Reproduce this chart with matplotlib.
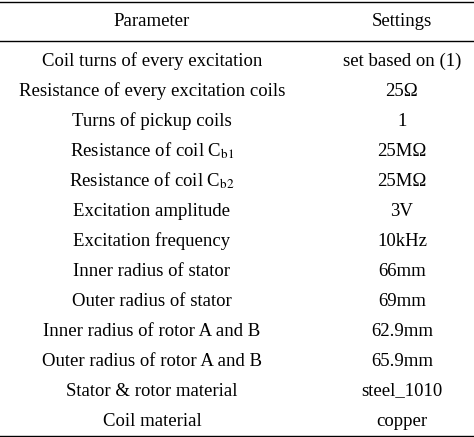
import matplotlib
matplotlib.use('Agg')
import matplotlib.pyplot as plt

plt.rcParams['font.family'] = 'Liberation Serif'
plt.rcParams['mathtext.fontset'] = 'stix'

headers = ['Parameter', 'Settings']
parameters = [
    'Coil turns of every excitation',
    'Resistance of every excitation coils',
    'Turns of pickup coils',
    r'Resistance of coil C$_{\mathrm{b1}}$',
    r'Resistance of coil C$_{\mathrm{b2}}$',
    'Excitation amplitude',
    'Excitation frequency',
    'Inner radius of stator',
    'Outer radius of stator',
    'Inner radius of rotor A and B',
    'Outer radius of rotor A and B',
    'Stator & rotor material',
    'Coil material',
]
settings = ['set based on (1)', '25Ω', '1', '25MΩ', '25MΩ', '3V', '10kHz',
            '66mm', '69mm', '62.9mm', '65.9mm', 'steel_1010', 'copper']

fig = plt.figure(figsize=(4.74, 4.37), dpi=100)
ax = fig.add_axes([0, 0, 1, 1])
ax.set_xlim(0, 474)
ax.set_ylim(437, 0)
ax.axis('off')

x_param, x_set = 152, 402
fs = 13.5
ax.text(x_param, 21, headers[0], ha='center', va='center', fontsize=fs)
ax.text(x_set, 21, headers[1], ha='center', va='center', fontsize=fs)
for i, (p, s) in enumerate(zip(parameters, settings)):
    y = 61 + i * 30
    ax.text(x_param, y, p, ha='center', va='center', fontsize=fs)
    ax.text(x_set, y, s, ha='center', va='center', fontsize=fs)

for y in (1.5, 41, 435.5):
    ax.plot([0, 474], [y, y], color='black', lw=1.0)

fig.savefig('out.png', dpi=100)
